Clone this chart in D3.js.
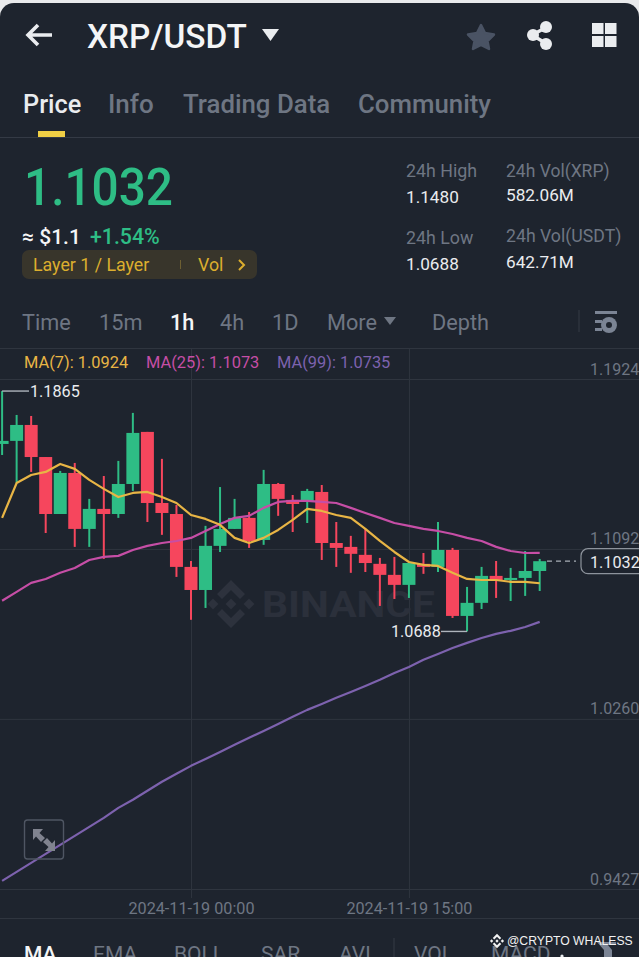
<!DOCTYPE html>
<html>
<head>
<meta charset="utf-8">
<script src="https://cdn.jsdelivr.net/npm/d3@7"></script>
<style>
  html, body { margin: 0; padding: 0; background: #e9eaec; overflow: hidden; }
  svg { display: block; font-family: Roboto, sans-serif; }
</style>
</head>
<body>
<svg id="canvas" width="639" height="957"></svg>
<script>
// XRP/USDT 1h candles
let candleOpen = [1.1606,1.1621,1.1699,1.1542,1.1263,1.1464,1.1190,1.1288,1.1263,1.1410,1.1665,1.1317,1.1263,1.1004,1.0891,1.1107,1.1190,1.1244,1.1136,1.1410,1.1332,1.1322,1.1371,1.1121,1.1102,1.1063,1.1019,1.0965,1.0916,1.1019,1.1004,1.1087,1.0764,1.0828,1.0960,1.0940,1.0950,1.0984];
let candleHigh = [1.1865,1.1748,1.1743,1.1542,1.1474,1.1513,1.1337,1.1449,1.1523,1.1758,1.1665,1.1533,1.1307,1.1033,1.1205,1.1395,1.1337,1.1273,1.1479,1.1415,1.1356,1.1386,1.1405,1.1224,1.1156,1.1190,1.1048,1.1053,1.1023,1.1072,1.1224,1.1097,1.0906,1.1004,1.1033,1.0999,1.1082,1.1043];
let candleLow = [1.1552,1.1415,1.1469,1.1170,1.1263,1.1102,1.1102,1.1043,1.1244,1.1376,1.1224,1.1161,1.0955,1.0745,1.0803,1.1077,1.1190,1.1097,1.1112,1.1254,1.1175,1.1219,1.1038,1.1004,1.0975,1.0979,1.0813,1.0847,1.0852,1.0970,1.0979,1.0754,1.0688,1.0798,1.0852,1.0837,1.0862,1.0886];
let candleClose = [1.1621,1.1699,1.1542,1.1263,1.1464,1.1190,1.1288,1.1263,1.1410,1.1660,1.1317,1.1268,1.1004,1.0891,1.1107,1.1190,1.1244,1.1131,1.1410,1.1337,1.1312,1.1376,1.1121,1.1097,1.1068,1.1023,1.0965,1.0916,1.1023,1.1004,1.1087,1.0764,1.0828,1.0960,1.0940,1.0950,1.0984,1.1032];

let ma7 = [1.1244,1.1415,1.1454,1.1469,1.1508,1.1484,1.1430,1.1386,1.1346,1.1366,1.1371,1.1346,1.1317,1.1258,1.1239,1.1210,1.1146,1.1121,1.1146,1.1185,1.1234,1.1288,1.1278,1.1258,1.1244,1.1190,1.1131,1.1077,1.1028,1.1014,1.1009,1.0975,1.0945,1.0940,1.0940,1.0931,1.0931,1.0924];
let ma25 = [1.0838,1.0882,1.0926,1.0945,1.0975,1.0999,1.1038,1.1053,1.1058,1.1087,1.1107,1.1121,1.1131,1.1146,1.1180,1.1214,1.1244,1.1254,1.1293,1.1322,1.1327,1.1327,1.1322,1.1317,1.1293,1.1268,1.1244,1.1219,1.1205,1.1190,1.1180,1.1165,1.1146,1.1131,1.1102,1.1082,1.1072,1.1073];
let ma99 = [0.9467,0.9511,0.9555,0.9599,0.9643,0.9687,0.9731,0.9775,0.9824,0.9864,0.9908,0.9952,0.9991,1.0030,1.0064,1.0098,1.0133,1.0167,1.0201,1.0235,1.0270,1.0304,1.0333,1.0363,1.0392,1.0421,1.0451,1.0485,1.0514,1.0549,1.0578,1.0607,1.0632,1.0656,1.0676,1.0691,1.0710,1.0735];

let priceTicks = [1.1924, 1.1092, 1.0260, 0.9427];
let timeTicks = ["2024-11-19T00:00Z", "2024-11-19T15:00Z"].map(function(d){ return new Date(d) });
let firstCandle = new Date("2024-11-18T11:00Z"), lastCandle = new Date("2024-11-20T00:00Z");
let candleTimes = d3.utcHour.range(firstCandle, d3.utcHour.offset(lastCandle, 1));

let lastPrice = 1.1032, highLabel = 1.1865, lowLabel = 1.0688;

let bg = "#1e242e", green = "#2ebd85", red = "#f6465d", grey = "#6e7683", gridColor = "#2f353f", white = "#eaecef";
let yellow = "#e8b545", pink = "#c64ea6", purple = "#7d62ae";

let svg = d3.select("#canvas");

// app background with rounded top corners
svg.append("rect").attr("x", 0).attr("y", 3).attr("width", 639).attr("height", 980).attr("rx", 14).attr("fill", bg);

function label(x, y, text, size, color, weight) {
    return svg.append("text").attr("x", x).attr("y", y).attr("font-size", size)
              .attr("fill", color).attr("font-weight", weight || 400).text(text);
}
function hline(y, color) {
    svg.append("line").attr("x1", 0).attr("x2", 639).attr("y1", y).attr("y2", y).attr("stroke", color || gridColor);
}
function binanceLogo(parent, cx, cy, s, color) {
    let g = parent.append("g").attr("transform", "translate(" + cx + "," + cy + ") scale(" + s + ")").attr("fill", color);
    g.append("path").attr("d", "M0,-24L14,-10L9,-5L0,-14L-9,-5L-14,-10Z");
    g.append("path").attr("d", "M0,24L14,10L9,5L0,14L-9,5L-14,10Z");
    g.append("path").attr("d", "M0,-5.5L5.5,0L0,5.5L-5.5,0Z");
    g.append("path").attr("d", "M-18,-5.5L-12.5,0L-18,5.5L-23.5,0Z");
    g.append("path").attr("d", "M18,-5.5L23.5,0L18,5.5L12.5,0Z");
}

// header
svg.append("path").attr("d", "M52,35H29M38,25L28,35L38,45").attr("fill", "none").attr("stroke", white).attr("stroke-width", 3.6);
label(87, 48, "XRP/USDT", 33.4, "#f4f5f6", 500);
svg.append("path").attr("d", "M262,29H279L270.5,41Z").attr("fill", white);
// rounded star, the fill plus a round-joined stroke
svg.append("path").attr("d", "M481,25L485,33L494,34.5L487.5,41L489,49L481,45L473,49L474.5,41L468,34.5L477,33Z")
   .attr("fill", "#4a5364").attr("stroke", "#4a5364").attr("stroke-width", 2.5).attr("stroke-linejoin", "round");
svg.append("path").attr("d", "M532,35L547,27M532,35L547,44").attr("stroke", white).attr("stroke-width", 3.4);
[[533, 35, 6], [546, 27, 6], [546, 44, 6]].forEach(function(c) {
    svg.append("circle").attr("cx", c[0]).attr("cy", c[1]).attr("r", c[2]).attr("fill", white);
});
[[592, 23], [605, 23], [592, 36], [605, 36]].forEach(function(c) {
    svg.append("rect").attr("x", c[0]).attr("y", c[1]).attr("width", 11.5).attr("height", 11).attr("fill", white);
});

// tabs
label(23, 113, "Price", 25.3, white, 500);
label(108, 113, "Info", 26, grey, 500);
label(183, 113, "Trading Data", 25.8, grey, 500);
label(358, 113, "Community", 25.8, grey, 500);
svg.append("rect").attr("x", 38).attr("y", 131).attr("width", 27).attr("height", 6).attr("fill", "#f0cf45");
hline(137.5, "#343a45");

// price block
label(24, 205, "1.1032", 51, green, 500).attr("textLength", 149).attr("lengthAdjust", "spacingAndGlyphs");
label(22, 244, "≈ $1.1", 21, "#f4f5f6", 500);
label(90, 244, "+1.54%", 21.3, green, 500);
svg.append("rect").attr("x", 22).attr("y", 250).attr("width", 235).attr("height", 29).attr("rx", 7).attr("fill", "#38352b");
label(33, 271, "Layer 1 / Layer", 17.8, "#dcae2e");
svg.append("line").attr("x1", 180.5).attr("x2", 180.5).attr("y1", 260).attr("y2", 269).attr("stroke", "#6d5f32");
label(198, 271, "Vol", 17.8, "#dcae2e");
svg.append("path").attr("d", "M239,260L244,265L239,270").attr("fill", "none").attr("stroke", "#dcae2e").attr("stroke-width", 2);

label(406, 177, "24h High", 17.8, grey);
label(406, 203, "1.1480", 17.2, white);
label(406, 244, "24h Low", 17.8, grey);
label(406, 270, "1.0688", 17.2, white);
label(506, 177, "24h Vol(XRP)", 17.5, grey);
label(506, 201, "582.06M", 17.2, white);
label(506, 242, "24h Vol(USDT)", 17.7, grey);
label(506, 268, "642.71M", 17.2, white);

// interval row
label(22, 330, "Time", 21.7, grey);
label(99, 330, "15m", 21.7, grey);
label(170, 330, "1h", 21.7, "#f4f5f6", 500);
label(220, 330, "4h", 21.7, grey);
label(272, 330, "1D", 21.7, grey);
label(327, 330, "More", 21.7, grey);
svg.append("path").attr("d", "M384,317H396L390,325Z").attr("fill", grey);
label(432, 330, "Depth", 21.7, grey);
svg.append("line").attr("x1", 579).attr("x2", 579).attr("y1", 310).attr("y2", 332).attr("stroke", "#343a45");
let iconCol = "#7b8494";
svg.append("rect").attr("x", 595).attr("y", 311).attr("width", 22).attr("height", 3).attr("fill", iconCol);
svg.append("rect").attr("x", 595).attr("y", 320).attr("width", 7).attr("height", 3).attr("fill", iconCol);
svg.append("rect").attr("x", 595).attr("y", 328).attr("width", 7).attr("height", 3).attr("fill", iconCol);
svg.append("path").attr("d", d3.symbol(d3.symbolCircle, 200)).attr("transform", "translate(609,325)").attr("fill", iconCol);
svg.append("circle").attr("cx", 609).attr("cy", 325).attr("r", 3).attr("fill", bg);

hline(348.5);
hline(918.5);

// scales
let x = d3.scaleUtc().domain([firstCandle, lastCandle]).range([2.1, 539.7]);
let y = d3.scaleLinear().domain([0.9427, 1.1924]).range([889, 379]);

// y axis: ticks stretch across the chart as gridlines, labels sit above them
let yAxis = svg.append("g").attr("transform", "translate(639,0)")
    .call(d3.axisLeft(y).tickValues(priceTicks).tickSize(639).tickFormat(d3.format(".4f")));
yAxis.select(".domain").remove();
yAxis.selectAll("line").attr("stroke", gridColor);
yAxis.selectAll("text").attr("x", -49).attr("dy", "-5").attr("text-anchor", "start")
     .attr("fill", grey).attr("font-size", 16).attr("font-family", "Roboto, sans-serif");

// x axis: same idea, ticks reach up to the top of the chart
let xAxis = svg.append("g").attr("transform", "translate(0,898)")
    .call(d3.axisBottom(x).tickValues(timeTicks).tickSize(-549).tickFormat(d3.utcFormat("%Y-%m-%d %H:%M")));
xAxis.select(".domain").remove();
xAxis.selectAll("line").attr("stroke", gridColor);
xAxis.selectAll("text").attr("y", 16).attr("dy", 0).attr("fill", grey).attr("font-size", 16.2).attr("font-family", "Roboto, sans-serif");

// watermark sits under the candles
binanceLogo(svg, 231, 604, 1, "#2d323d");
label(262, 617, "BINANCE", 37, "#2b303b", 700).attr("textLength", 173).attr("lengthAdjust", "spacingAndGlyphs");

// candles
let candles = candleTimes.map(function(t, i) {
    return {t: t, o: candleOpen[i], h: candleHigh[i], l: candleLow[i], c: candleClose[i]};
});
function candleColor(d) { return d.c >= d.o ? green : red; }

svg.append("g").selectAll("line").data(candles).enter().append("line")
    .attr("x1", function(d) { return x(d.t) })
    .attr("x2", function(d) { return x(d.t) })
    .attr("y1", function(d) { return y(d.h) })
    .attr("y2", function(d) { return y(d.l) })
    .attr("stroke", candleColor).attr("stroke-width", 2);

svg.append("g").selectAll("rect").data(candles).enter().append("rect")
    .attr("x", function(d) { return x(d.t) - 6.5 })
    .attr("width", 13)
    .attr("y", function(d) { return y(Math.max(d.o, d.c)) })
    .attr("height", function(d) { return Math.max(2, Math.abs(y(d.o) - y(d.c))) })
    .attr("fill", candleColor);

// moving averages
let line = d3.line().x(function(d, i) { return x(candleTimes[i]) }).y(function(d) { return y(d) });
[[ma99, purple], [ma25, pink], [ma7, yellow]].forEach(function(s) {
    svg.append("path").datum(s[0]).attr("d", line).attr("fill", "none")
       .attr("stroke", s[1]).attr("stroke-width", 2.2).attr("stroke-linejoin", "round");
});

label(24, 368, "MA(7): 1.0924", 16.4, yellow);
label(146, 368, "MA(25): 1.1073", 16.4, pink);
label(277, 368, "MA(99): 1.0735", 16.4, purple);

// high / low callouts
let leader = "#aeb4bc";
svg.append("path").attr("fill", "none").attr("stroke", leader).attr("stroke-width", 1.4)
   .attr("d", "M" + x(candleTimes[0]) + "," + y(highLabel) + "H29");
label(30, 397, "1.1865", 16.2, white);
svg.append("path").attr("fill", "none").attr("stroke", leader).attr("stroke-width", 1.4)
   .attr("d", "M" + x(candleTimes[32]) + "," + y(lowLabel) + "H441");
label(391, 637, "1.0688", 16.2, white);

// last price tag
svg.append("line").attr("x1", 547).attr("x2", 576).attr("y1", y(lastPrice)).attr("y2", y(lastPrice))
   .attr("stroke", "#a8aeb6").attr("stroke-dasharray", "5 4").attr("stroke-width", 1.2);
svg.append("rect").attr("x", 581).attr("y", y(lastPrice) - 12.5).attr("width", 70).attr("height", 25).attr("rx", 7)
   .attr("fill", bg).attr("stroke", "#8d939c").attr("stroke-width", 1.2);
label(590, y(lastPrice) + 6.5, "1.1032", 16.2, white);

// expand button
svg.append("rect").attr("x", 24.5).attr("y", 820).attr("width", 39).attr("height", 39).attr("rx", 3)
   .attr("fill", "none").attr("stroke", "#4f5663").attr("stroke-width", 1.4);
svg.append("path").attr("d", "M33,829H43L39.5,833L45,838L41,842L36,836.5L33,840Z").attr("fill", "#80838f");
svg.append("path").attr("d", "M55,851H45L48.5,847L43,842L47,838L52,843.5L55,840Z").attr("fill", "#80838f");

// bottom indicator tabs, cut off by the picture edge
label(24, 961, "MA", 21, "#f4f5f6", 500);
label(93, 961, "EMA", 21, grey);
label(174, 961, "BOLL", 21, grey);
label(261, 961, "SAR", 21, grey);
label(339, 961, "AVL", 21, grey);
svg.append("line").attr("x1", 394).attr("x2", 394).attr("y1", 938).attr("y2", 957).attr("stroke", "#343a45");
label(414, 961, "VOL", 21, grey);
label(491, 961, "MACD", 21, grey);
svg.append("circle").attr("cx", 562).attr("cy", 956).attr("r", 1.6).attr("fill", white);
svg.append("path").attr("d", "M597,942H616V945H608L612,950V957H604V950Z").attr("fill", iconCol);

// overlaid credit
binanceLogo(svg, 497, 941, 0.3, "#f2f2f2");
label(507, 945, "@CRYPTO WHALESS", 12.2, "#f2f2f2").attr("font-family", "Liberation Sans, sans-serif");
</script>
</body>
</html>
